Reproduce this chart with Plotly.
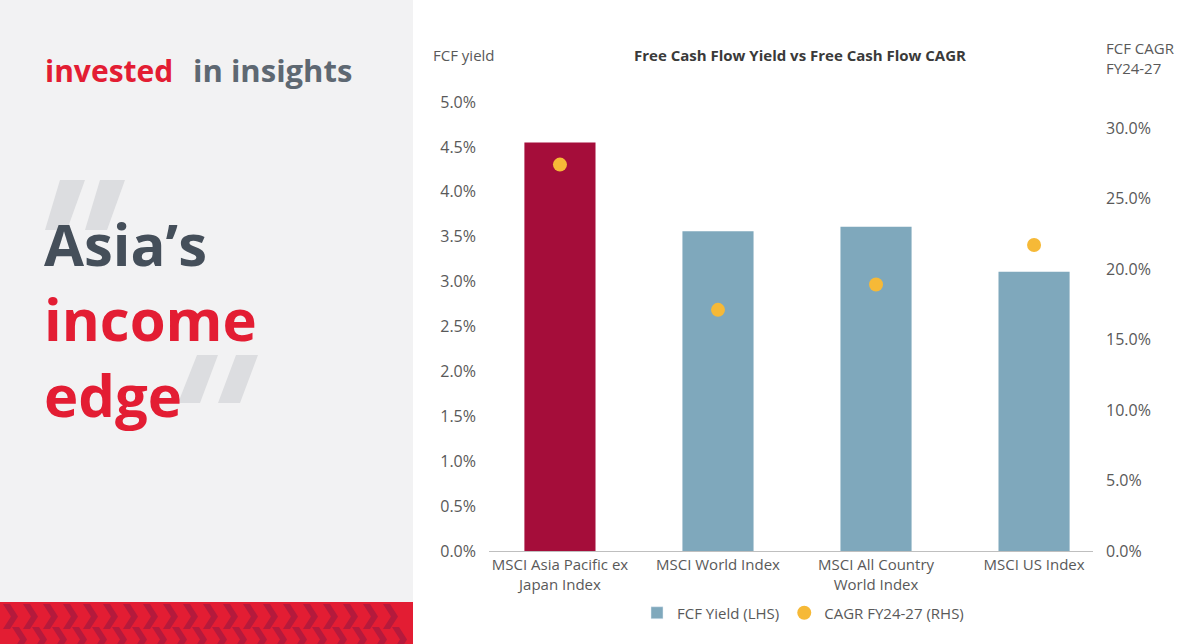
import plotly.graph_objects as go

# ---------------- data ----------------
categories = ["MSCI Asia Pacific ex<br>Japan Index", "MSCI World Index",
              "MSCI All Country<br>World Index", "MSCI US Index"]
fcf_yield = [4.55, 3.56, 3.61, 3.11]          # % (LHS)
fcf_cagr = [27.4, 17.1, 18.9, 21.7]           # % (RHS)
bar_colors = ["#a50d3a", "#7fa8bc", "#7fa8bc", "#7fa8bc"]
left_ticks = [0.0, 0.5, 1.0, 1.5, 2.0, 2.5, 3.0, 3.5, 4.0, 4.5, 5.0]
right_ticks = [0, 5, 10, 15, 20, 25, 30]

W, H = 1200, 644
def px(x):
    return x / W
def py(y):
    return 1 - y / H

TXT = "#595959"
FONT = "Open Sans"

fig = go.Figure()

fig.add_trace(go.Bar(x=categories, y=fcf_yield, marker=dict(color=bar_colors, line=dict(width=0)),
                     width=0.45, showlegend=False, name="FCF Yield (LHS)", yaxis="y"))
# legend entry for the bars
fig.add_trace(go.Bar(x=[None], y=[None], marker=dict(color="#7fa8bc"), name="FCF Yield (LHS)",
                     showlegend=True))
fig.add_trace(go.Scatter(x=categories, y=fcf_cagr, mode="markers", yaxis="y2",
                         marker=dict(color="#f6b937", size=14), name="CAGR FY24-27 (RHS)"))

shapes = []
# left panel background
shapes.append(dict(type="rect", xref="paper", yref="paper", x0=0, x1=px(413), y0=0, y1=1,
                   fillcolor="#f2f2f3", line=dict(width=0), layer="below"))
# quote marks
qc = "#dcdde0"
def para(pts):
    d = "M " + " L ".join(f"{px(x)},{py(y)}" for x, y in pts) + " Z"
    return dict(type="path", xref="paper", yref="paper", path=d, fillcolor=qc,
                line=dict(width=0), layer="below")
shapes.append(para([(60, 180), (85, 180), (67, 230), (45, 230)]))
shapes.append(para([(100, 180), (125, 180), (107, 230), (85, 230)]))
shapes.append(para([(197, 355), (218, 355), (200, 403), (178, 403)]))
shapes.append(para([(236, 355), (258, 355), (240, 403), (218, 403)]))
# red chevron strip
shapes.append(dict(type="rect", xref="paper", yref="paper", x0=0, x1=px(413), y0=0, y1=py(602),
                   fillcolor="#e31d33", line=dict(width=0)))
def chevron(x, y0, y1):
    ym = (y0 + y1) / 2
    pts = [(x, y0), (x + 7, y0), (x + 15, ym), (x + 7, y1), (x, y1), (x + 8, ym)]
    d = "M " + " L ".join(f"{px(a)},{py(b)}" for a, b in pts) + " Z"
    return dict(type="path", xref="paper", yref="paper", path=d, fillcolor="#b51a3c",
                line=dict(width=0))
for i in range(21):
    x = 3 + i * 20
    if x + 15 <= 413:
        shapes.append(chevron(x, 604, 629))
    if x + 8 + 15 <= 413:
        shapes.append(chevron(x + 9, 627, 652))

headline = ("<b><span style='color:#454f5a'>Asia\u2019s</span><br>"
            "income<br>edge</b>")

annotations = [
    dict(text="<b>invested</b>", x=px(43), y=py(70), xref="paper", yref="paper", xanchor="left",
         yanchor="middle", showarrow=False, font=dict(family=FONT, size=30, color="#e31d33")),
    dict(text="<b>in insights</b>", x=px(191), y=py(70), xref="paper", yref="paper", xanchor="left",
         yanchor="middle", showarrow=False, font=dict(family=FONT, size=31, color="#5e6872")),
    dict(text=headline, x=px(42), y=py(436), xref="paper", yref="paper", xanchor="left",
         yanchor="bottom", align="left", showarrow=False,
         font=dict(family=FONT, size=58, color="#e31d33")),
    dict(text="FCF yield", x=px(431), y=py(55), xref="paper", yref="paper", xanchor="left",
         yanchor="middle", showarrow=False, font=dict(family=FONT, size=15, color=TXT)),
    dict(text="<b>Free Cash Flow Yield vs Free Cash Flow CAGR</b>", x=px(800), y=py(55),
         xref="paper", yref="paper", xanchor="center", yanchor="middle", showarrow=False,
         font=dict(family=FONT, size=15, color="#3a3a3a")),
    dict(text="FCF CAGR<br>FY24-27", x=px(1104), y=py(58), xref="paper", yref="paper",
         xanchor="left", yanchor="middle", align="left", showarrow=False,
         font=dict(family=FONT, size=15, color=TXT)),
]

fig.update_layout(
    width=W, height=H, margin=dict(l=0, r=0, t=0, b=0, pad=0),
    paper_bgcolor="white", plot_bgcolor="rgba(0,0,0,0)",
    font=dict(family=FONT, size=14, color=TXT),
    shapes=shapes, annotations=annotations,
    xaxis=dict(domain=[px(489), px(1093)], range=[-0.449, 3.373], type="category",
               showline=True, linecolor="#bfbfbf", linewidth=1, showgrid=False, ticks="",
               tickfont=dict(size=15, color=TXT), fixedrange=True, automargin=False),
    yaxis=dict(domain=[py(551), py(102)], range=[0, 5.0001], tickvals=left_ticks,
               ticktext=[f"{v:.1f}%" for v in left_ticks], showgrid=False, zeroline=False,
               showline=False, ticks="", ticklabelstandoff=12, automargin=False,
               tickfont=dict(size=16, color=TXT)),
    yaxis2=dict(overlaying="y", side="right", range=[0, 31.84], tickvals=right_ticks,
                ticktext=[f"{v:.1f}%" for v in right_ticks], showgrid=False, zeroline=False,
                showline=False, ticks="", ticklabelstandoff=12, automargin=False,
                tickfont=dict(size=16, color=TXT)),
    legend=dict(orientation="h", x=px(803), xanchor="center", y=py(613), yanchor="middle",
                font=dict(size=15, color=TXT), itemwidth=30, bgcolor="rgba(0,0,0,0)",
                traceorder="normal"),
)

fig.write_html("out.html")
